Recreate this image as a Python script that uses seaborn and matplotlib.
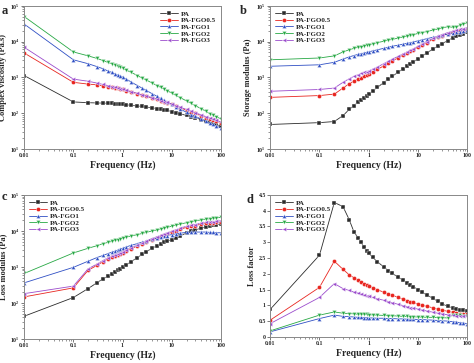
import matplotlib
matplotlib.use("Agg")
import matplotlib.pyplot as plt
import matplotlib.ticker as mticker
import pandas as pd
import seaborn as sns

samples = ["PA", "PA-FGO0.5", "PA-FGO1", "PA-FGO2", "PA-FGO3"]
colors = ["#2b2b2b", "#e8251f", "#2f4fc4", "#27a844", "#9b4ccc"]
marks = ["s", "o", "^", "v", "<"]

freq = [0.01, 0.1, 0.2, 0.3, 0.4, 0.5, 0.6, 0.7, 0.8, 0.9,
        1, 1.2, 1.5, 2, 2.5, 3, 4, 5, 6, 7, 8,
        10, 12, 15, 20, 25, 30, 40, 50, 60, 70, 80, 100]

# complex viscosity (Pa.s)
visc_pa = [1120, 205, 195, 192, 190, 188, 186, 184, 181, 178, 175, 170, 165, 158, 153, 148, 140,
           134, 129, 124, 120, 110, 103, 95, 86, 79, 74, 66, 60, 56, 52, 48, 43]
visc_05 = [4790, 724, 646, 617, 575, 550, 525, 501, 490, 468, 457, 427, 389, 347, 316, 295, 263,
           240, 219, 204, 195, 174, 158, 141, 120, 107, 98, 83, 74, 68, 63, 59, 52]
visc_1 = [30900, 3090, 2400, 2000, 1740, 1510, 1380, 1260, 1150, 1100, 1020, 890, 740, 590, 500,
          437, 347, 295, 257, 229, 209, 174, 151, 129, 105, 91, 81, 68, 59, 52, 48, 44, 38]
visc_2 = [50100, 5130, 3980, 3390, 2950, 2630, 2400, 2240, 2040, 1950, 1820, 1580, 1380, 1120, 955,
          851, 692, 589, 525, 468, 427, 363, 316, 269, 219, 186, 162, 132, 112, 95, 87, 79, 69]
visc_3 = [6920, 891, 776, 692, 631, 589, 550, 525, 501, 479, 468, 437, 398, 355, 324, 302, 269,
          245, 224, 209, 200, 178, 162, 145, 126, 112, 102, 89, 79, 72, 68, 63, 56]

# storage modulus (Pa)
gp_pa = [48, 54, 58, 85, 126, 162, 200, 234, 269, 309, 339, 417, 525, 708, 891, 1070, 1410, 1740,
         2040, 2340, 2690, 3310, 3890, 4790, 6170, 7410, 8510, 10700, 12600, 14100, 15500, 16600, 18200]
gp_05 = [275, 309, 339, 501, 661, 776, 891, 977, 1070, 1150, 1230, 1410, 1660, 2090, 2510, 2880,
         3550, 4170, 4790, 5370, 5890, 6920, 7940, 9330, 11500, 13200, 14500, 16600, 18200, 19500,
         20400, 21400, 22400]
gp_1 = [2040, 2240, 2630, 3240, 3720, 4070, 4370, 4570, 4790, 5010, 5130, 5500, 5890, 6460, 6920,
        7410, 7940, 8510, 8910, 9330, 9770, 10500, 11200, 12000, 13200, 14100, 14800, 16200, 17400,
        18200, 19100, 20000, 21400]
gp_2 = [3090, 3470, 3980, 5130, 5890, 6460, 6920, 7240, 7590, 7940, 8130, 8710, 9330, 10200, 11000,
        11500, 12600, 13500, 14100, 14800, 15500, 17000, 17800, 19100, 20900, 22400, 23400, 26300,
        25100, 26300, 28200, 30200, 33900]
gp_3 = [407, 457, 501, 724, 912, 1070, 1170, 1290, 1380, 1450, 1510, 1700, 1950, 2400, 2820, 3240,
        3890, 4570, 5130, 5750, 6310, 7410, 8510, 10000, 12300, 14100, 15500, 17800, 19500, 20900,
        21900, 22900, 24500]

# loss modulus (Pa)
gpp_pa = [43, 142, 252, 363, 468, 550, 646, 724, 813, 891, 977, 1150, 1410, 1820, 2240, 2630, 3310,
          3890, 4370, 4790, 5130, 5750, 6460, 7410, 8710, 9770, 10700, 12000, 12900, 13800, 14500,
          14800, 15500]
gpp_05 = [148, 263, 813, 1100, 1410, 1660, 1860, 2040, 2190, 2340, 2510, 2820, 3240, 3800, 4370,
          4900, 5750, 6460, 7080, 7760, 8320, 9120, 10000, 11200, 12600, 13500, 14100, 15500, 16200,
          16600, 17000, 17400, 17800]
gpp_1 = [363, 977, 1450, 1820, 2090, 2340, 2570, 2750, 2950, 3160, 3310, 3630, 3980, 4470, 4900,
         5250, 5890, 6310, 6760, 7080, 7410, 7940, 8320, 8710, 9120, 9330, 9330, 9330, 9330, 9120,
         9120, 8910, 8910]
gpp_2 = [661, 2450, 3310, 3890, 4470, 4790, 5130, 5500, 5750, 6030, 6310, 6760, 7240, 7940, 8510,
         9120, 10000, 10700, 11500, 12000, 12600, 13500, 14500, 15500, 17000, 18200, 19100, 20400,
         21400, 21900, 22400, 22900, 24000]
gpp_3 = [182, 295, 891, 1200, 1510, 1780, 2000, 2190, 2340, 2510, 2690, 3020, 3470, 4070, 4680,
         5250, 6170, 6920, 7590, 8320, 8910, 9770, 10700, 12000, 13500, 14500, 15100, 16600, 17400,
         17800, 18200, 18600, 19100]

# loss factor
tan_pa = [0.87, 2.59, 4.26, 4.13, 3.72, 3.33, 3.15, 3.00, 2.84, 2.72, 2.65, 2.52, 2.38, 2.22, 2.10,
          2.01, 1.89, 1.79, 1.71, 1.65, 1.59, 1.50, 1.42, 1.33, 1.22, 1.13, 1.05, 0.97, 0.92, 0.88,
          0.86, 0.84, 0.82]
tan_05 = [0.53, 1.57, 2.40, 2.14, 1.97, 1.87, 1.80, 1.74, 1.69, 1.65, 1.62, 1.56, 1.49, 1.42, 1.36,
          1.32, 1.25, 1.19, 1.15, 1.12, 1.09, 1.04, 1.00, 0.97, 0.92, 0.88, 0.85, 0.81, 0.78, 0.76,
          0.74, 0.73, 0.72]
tan_1 = [0.16, 0.58, 0.69, 0.65, 0.64, 0.63, 0.62, 0.62, 0.61, 0.61, 0.60, 0.60, 0.59, 0.59, 0.58,
         0.58, 0.57, 0.57, 0.56, 0.56, 0.56, 0.55, 0.55, 0.54, 0.53, 0.52, 0.51, 0.50, 0.48, 0.47,
         0.45, 0.44, 0.42]
tan_2 = [0.19, 0.69, 0.79, 0.75, 0.74, 0.73, 0.72, 0.72, 0.71, 0.71, 0.70, 0.70, 0.69, 0.68, 0.67,
         0.67, 0.66, 0.65, 0.65, 0.64, 0.64, 0.63, 0.63, 0.62, 0.62, 0.61, 0.61, 0.60, 0.69, 0.68,
         0.68, 0.67, 0.66]
tan_3 = [0.42, 1.25, 1.69, 1.53, 1.47, 1.42, 1.39, 1.36, 1.33, 1.31, 1.29, 1.25, 1.21, 1.16, 1.12,
         1.08, 1.03, 0.99, 0.96, 0.93, 0.91, 0.88, 0.85, 0.82, 0.78, 0.75, 0.73, 0.70, 0.68, 0.67,
         0.66, 0.65, 0.66]

panels = [
    ("a", "Complex viscosity (Pa.s)", [visc_pa, visc_05, visc_1, visc_2, visc_3], True, "upper right"),
    ("b", "Storage modulus (Pa)", [gp_pa, gp_05, gp_1, gp_2, gp_3], True, "upper left"),
    ("c", "Loss modulus (Pa)", [gpp_pa, gpp_05, gpp_1, gpp_2, gpp_3], True, "upper left"),
    ("d", "Loss factor", [tan_pa, tan_05, tan_1, tan_2, tan_3], False, "upper left"),
]

sns.set_theme(style="ticks")
plt.rcParams["font.family"] = ["Liberation Serif", "DejaVu Serif"]
plt.rcParams["font.weight"] = "bold"
plt.rcParams["mathtext.fontset"] = "custom"
plt.rcParams["mathtext.rm"] = "Liberation Serif:bold"
plt.rcParams["mathtext.it"] = "Liberation Serif:bold"
plt.rcParams["mathtext.bf"] = "Liberation Serif:bold"

fig = plt.figure(figsize=(4.74, 3.63), dpi=100)
rects = [
    [0.051, 0.590, 0.415, 0.394],
    [0.570, 0.590, 0.416, 0.394],
    [0.051, 0.066, 0.415, 0.397],
    [0.570, 0.072, 0.416, 0.391],
]
letter_pos = [(0.004, 0.985), (0.506, 0.985), (0.004, 0.475), (0.521, 0.465)]
ylab_x = [-0.088, -0.09, -0.088, -0.07]

for (letter, ylabel, series, logy, legloc), rect, lp, yx in zip(panels, rects, letter_pos, ylab_x):
    ax = fig.add_axes(rect)
    rows = []
    for name, vals in zip(samples, series):
        for f, v in zip(freq, vals):
            rows.append({"freq": f, "value": v, "sample": name})
    df = pd.DataFrame(rows)
    sns.lineplot(data=df, x="freq", y="value", hue="sample", style="sample",
                 hue_order=samples, style_order=samples,
                 palette=dict(zip(samples, colors)), markers=dict(zip(samples, marks)),
                 dashes=False, estimator=None, sort=False, linewidth=0.6,
                 markersize=3, markeredgewidth=0.3, ax=ax)
    ax.set_xscale("log")
    ax.set_xlim(0.01, 100)
    ax.xaxis.set_major_locator(mticker.FixedLocator([0.01, 0.1, 1, 10, 100]))
    ax.xaxis.set_major_formatter(mticker.FixedFormatter(["0.01", "0.1", "1", "10", "100"]))
    ax.xaxis.set_minor_locator(mticker.LogLocator(base=10, subs=range(2, 10)))
    ax.xaxis.set_minor_formatter(mticker.NullFormatter())
    if logy:
        ax.set_yscale("log")
        ax.set_ylim(10, 1e5)
        ax.yaxis.set_major_locator(mticker.FixedLocator([10, 100, 1e3, 1e4, 1e5]))
        ax.yaxis.set_major_formatter(mticker.FixedFormatter(
            [r"$10^1$", r"$10^2$", r"$10^3$", r"$10^4$", r"$10^5$"]))
        ax.yaxis.set_minor_locator(mticker.LogLocator(base=10, subs=range(2, 10)))
        ax.yaxis.set_minor_formatter(mticker.NullFormatter())
    else:
        ax.set_ylim(0, 4.5)
        yt = [0, 0.5, 1, 1.5, 2, 2.5, 3, 3.5, 4, 4.5]
        ax.yaxis.set_major_locator(mticker.FixedLocator(yt))
        ax.yaxis.set_major_formatter(mticker.FixedFormatter(
            ["0", "0.5", "1", "1.5", "2", "2.5", "3", "3.5", "4", "4.5"]))
    ax.tick_params(which="major", length=2, width=0.5, labelsize=4.2, pad=1, color="#444444")
    ax.tick_params(which="minor", length=1.1, width=0.4, color="#444444")
    for sp in ax.spines.values():
        sp.set_linewidth(0.7)
        sp.set_color("#888888")
    ax.set_xlabel("Frequency (Hz)", fontsize=7, fontweight="bold", labelpad=1.5)
    ax.set_ylabel(ylabel, fontsize=6, fontweight="bold")
    ax.yaxis.set_label_coords(yx, 0.5)
    leg = ax.legend(loc=legloc, frameon=False, fontsize=5, handlelength=2.6,
                    handletextpad=0.4, labelspacing=0.12, borderaxespad=0.3)
    for t in leg.get_texts():
        t.set_fontweight("bold")
    fig.text(lp[0], lp[1], letter, fontsize=9, fontweight="bold", va="top", ha="left")

fig.savefig("out.png", dpi=100)
